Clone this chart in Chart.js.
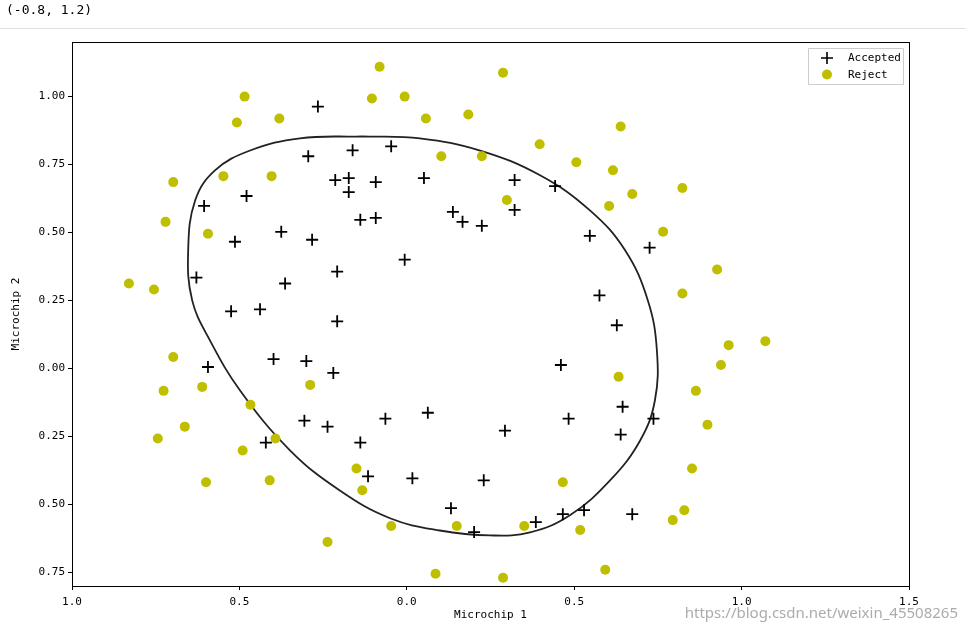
<!DOCTYPE html>
<html><head><meta charset="utf-8">
<script src="https://cdn.jsdelivr.net/npm/chart.js@4/dist/chart.umd.min.js"></script>
<style>body{margin:0;background:#fff}#w{position:relative;width:966px;height:634px}</style>
</head><body><div id="w"><canvas id="c" width="966" height="634"></canvas></div>
<script>
const acceptedX=[0.051267,-0.092742,-0.21371,-0.375,-0.51325,-0.52477,-0.39804,-0.30588,0.016705,0.13191,0.38537,0.52938,0.63882,0.73675,0.54666,0.322,0.16647,-0.046659,-0.17339,-0.47869,-0.60541,-0.62846,-0.59389,-0.42108,-0.11578,0.20104,0.46601,0.67339,-0.13882,-0.29435,-0.26555,-0.16187,-0.17339,-0.28283,-0.36348,-0.30012,-0.23675,-0.06394,0.062788,0.22984,0.2932,0.48329,0.64459,0.46025,0.6273,0.57546,0.72523,0.22408,0.44297,0.322,0.13767,-0.0063364,-0.092742,-0.20795,-0.20795,-0.43836,-0.21947,-0.13882];
const acceptedY=[0.69956,0.68494,0.69225,0.50219,0.46564,0.2098,0.034357,-0.19225,-0.40424,-0.51389,-0.56506,-0.5212,-0.24342,-0.18494,0.48757,0.5826,0.53874,0.81652,0.69956,0.63377,0.59722,0.33406,0.005117,-0.27266,-0.39693,-0.60161,-0.53582,-0.53582,0.54605,0.77997,0.96272,0.8019,0.64839,0.47295,0.31213,0.027047,-0.21418,-0.18494,-0.16301,-0.41155,-0.2288,-0.18494,-0.14108,0.012427,0.15863,0.26827,0.44371,0.52412,0.67032,0.69225,0.57529,0.39985,0.55336,0.35599,0.17325,0.21711,-0.016813,-0.27266];
const rejectX=[0.18376,0.22408,0.29896,0.50634,0.61578,0.60426,0.76555,0.92684,0.82316,0.96141,0.93836,0.86348,0.89804,0.85196,0.82892,0.79435,0.59274,0.51786,0.46601,0.35081,0.28744,0.085829,0.14919,-0.13306,-0.40956,-0.39228,-0.74366,-0.69758,-0.75518,-0.69758,-0.4038,-0.38076,-0.50749,-0.54781,0.10311,0.057028,-0.10426,-0.081221,0.28744,0.39689,0.63882,0.82316,0.67339,1.0709,-0.046659,-0.23675,-0.15035,-0.49021,-0.46717,-0.28859,-0.61118,-0.66302,-0.59965,-0.72638,-0.83007,-0.72062,-0.59389,-0.48445,-0.0063364,0.63265];
const rejectY=[0.93348,0.77997,0.61915,0.75804,0.7288,0.59722,0.50219,0.3633,0.27558,0.085526,0.012427,-0.082602,-0.20687,-0.36769,-0.5212,-0.55775,-0.7405,-0.5943,-0.41886,-0.57968,-0.76974,-0.75512,-0.57968,-0.4481,-0.41155,-0.25804,-0.25804,0.041667,0.2902,0.68494,0.70687,0.91886,0.90424,0.70687,0.77997,0.91886,0.99196,1.1089,1.087,0.82383,0.88962,0.66301,0.64108,0.10015,-0.57968,-0.63816,-0.36769,-0.3019,-0.13377,-0.060673,-0.067982,-0.21418,-0.41886,-0.082602,0.31213,0.53874,0.49488,0.99927,0.99927,-0.030612];
const boundaryX=[-0.134,0.039,0.219,0.398,0.547,0.652,0.720,0.747,0.741,0.697,0.607,0.487,0.368,0.249,0.099,-0.050,-0.200,-0.349,-0.498,-0.588,-0.641,-0.653,-0.632,-0.573,-0.468,-0.319,-0.134];
const boundaryY=[0.853,0.846,0.801,0.710,0.581,0.434,0.250,0.066,-0.118,-0.265,-0.412,-0.540,-0.603,-0.614,-0.596,-0.551,-0.449,-0.301,-0.081,0.103,0.250,0.434,0.618,0.728,0.801,0.846,0.853];
const xTicks=[-1.0,-0.5,0.0,0.5,1.0,1.5];
const yTicks=[-0.75,-0.5,-0.25,0,0.25,0.5,0.75,1.0];
const headerText='(-0.8, 1.2)';
const watermark='https://blog.csdn.net/weixin_45508265';
const zip=(a,b)=>a.map((v,i)=>({x:v,y:b[i]}));
const F='"DejaVu Sans Mono", monospace';
const deco={id:'deco',afterDraw(ch){const c=ch.ctx,a=ch.chartArea;c.save();
 c.strokeStyle='#000';c.lineWidth=1;c.strokeRect(Math.round(a.left)+.5,Math.round(a.top)+.5,Math.round(a.right-a.left),Math.round(a.bottom-a.top));
 c.fillStyle='#000';c.font='13px '+F;c.textBaseline='top';c.fillText(headerText,6,4);
 c.strokeStyle='#e0e0e0';c.beginPath();c.moveTo(0,28.5);c.lineTo(966,28.5);c.stroke();
 const x0=808,y0=48;c.fillStyle='#fff';c.strokeStyle='#ccc';c.lineWidth=1;
 c.beginPath();c.rect(x0+.5,y0+.5,95,36);c.fill();c.stroke();
 c.strokeStyle='#000';c.lineWidth=1.6;c.beginPath();c.moveTo(821,58);c.lineTo(833,58);c.moveTo(827,52);c.lineTo(827,64);c.stroke();
 c.fillStyle='#bfbf00';c.beginPath();c.arc(827,74.5,5,0,7);c.fill();
 c.fillStyle='#000';c.font='11px '+F;c.textBaseline='middle';c.fillText('Accepted',848,58);c.fillText('Reject',848,75);
 c.fillStyle='rgba(150,150,150,0.8)';c.font='15px "Noto Sans", sans-serif';c.textAlign='right';c.fillText(watermark,958,614);
 c.restore();}};
new Chart(document.getElementById('c'),{type:'scatter',
data:{datasets:[
{label:'Accepted',data:zip(acceptedX,acceptedY),pointStyle:'cross',pointRadius:6,borderColor:'#000',borderWidth:1.8,backgroundColor:'#000'},
{label:'Reject',data:zip(rejectX,rejectY),pointStyle:'circle',pointRadius:5,borderWidth:0,backgroundColor:'#bfbf00',borderColor:'#bfbf00'},
{label:'boundary',data:zip(boundaryX,boundaryY),showLine:true,pointRadius:0,borderColor:'#222',borderWidth:1.8,tension:0.4,fill:false}
]},
options:{responsive:false,animation:false,layout:{padding:{top:42,right:57,left:6,bottom:12}},
plugins:{legend:{display:false},tooltip:{enabled:false}},
scales:{
x:{min:-1,max:1.5,afterFit(s){s.height=36},afterBuildTicks(s){s.ticks=xTicks.map(v=>({value:v}))},
 grid:{drawOnChartArea:false,tickLength:4,color:'#000'},border:{color:'#000'},
 ticks:{color:'#000',font:{family:F,size:11},callback:v=>Math.abs(v).toFixed(1),maxRotation:0,padding:6},
 title:{display:true,text:'Microchip 1',color:'#000',font:{family:F,size:11},padding:{top:0,bottom:0}}},
y:{min:-0.8,max:1.2,afterFit(s){s.width=66},afterBuildTicks(s){s.ticks=yTicks.map(v=>({value:v}))},
 grid:{drawOnChartArea:false,tickLength:4,color:'#000'},border:{color:'#000'},
 ticks:{color:'#000',font:{family:F,size:11},callback:v=>Math.abs(v).toFixed(2)},
 title:{display:true,text:'Microchip 2',color:'#000',font:{family:F,size:11}}}
}},plugins:[deco]});
</script></body></html>
